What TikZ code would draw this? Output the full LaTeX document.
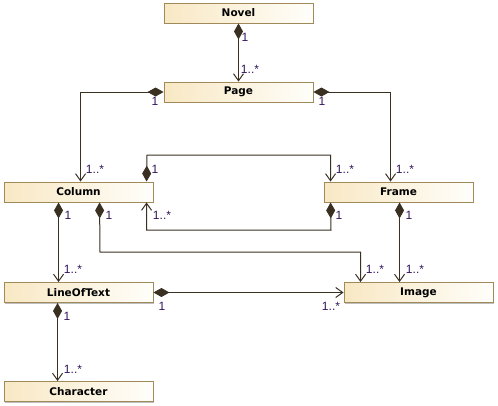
\documentclass[tikz,border=0pt]{standalone}
\usepackage{fontspec}
\newfontfamily\boxfont{DejaVu Sans}
\newfontfamily\labfont{Liberation Sans}
\usetikzlibrary{arrows.meta,shadows,calc}
\definecolor{lineC}{RGB}{58,48,34}
\definecolor{boxB}{RGB}{160,138,90}
\definecolor{boxL}{RGB}{248,232,196}
\definecolor{boxR}{RGB}{255,254,250}
\definecolor{labC}{RGB}{50,20,90}
\tikzset{
  cls/.style={draw=boxB, line width=0.9pt, left color=boxL, right color=boxR,
    minimum width=149pt, minimum height=20pt, inner sep=0pt,
    drop shadow={shadow xshift=1pt, shadow yshift=-1pt, opacity=0.25, fill=black},
    font=\boxfont\bfseries\fontsize{10.5}{12}\selectfont, text=black},
  comp/.style={draw=lineC, line width=1pt,
    {Diamond[length=16pt,width=9pt,fill=lineC]}-{Straight Barb[length=7pt,width=10pt,line width=1pt]}},
  lab/.style={font=\labfont\fontsize{12}{13}\selectfont, text=labC, inner sep=0pt}
}
\begin{document}
\begin{tikzpicture}[x=1pt,y=-1pt]
\useasboundingbox (0,0) rectangle (498,405);
% classes
\node[cls] (novel) at (238.5,13) {Novel};
\node[cls] (page) at (238.5,92) {Page};
\node[cls] (column) at (78.5,192) {Column};
\node[cls] (frame) at (398.5,192) {Frame};
\node[cls] (line) at (78.5,292.5) {LineOfText};
\node[cls] (image) at (418.5,292.5) {Image};
\node[cls] (char) at (78.5,391.5) {Character};
% bend points
\coordinate (lt) at (147,155);
\coordinate (lb) at (331,230);
\coordinate (ci) at (100,252);
% connectors
\draw[comp] (novel.south) -- (page.north);
\draw[comp] (page.west) -| ([xshift=77pt]column.north west);
\draw[comp] (page.east) -| ([xshift=67pt]frame.north west);
\draw[comp] ([xshift=143pt]column.north west) -- (lt) -| ([xshift=7pt]frame.north west);
\draw[comp] ([xshift=7pt]frame.south west) -- (lb) -| ([xshift=143pt]column.south west);
\draw[comp] ([xshift=96pt]column.south west) -- (ci) -| ([xshift=17pt]image.north west);
\draw[comp] ([xshift=76pt]frame.south west) -- ([xshift=56pt]image.north west);
\draw[comp] ([xshift=55pt]column.south west) -- ([xshift=55pt]line.north west);
\draw[comp] (line.east) -- (image.west);
\draw[comp] ([xshift=54pt]line.south west) -- ([xshift=54pt]char.north west);
% multiplicities
\node[lab] (l1) at (245,37) {1};
\node[lab] (l2) at (250,69) {1..*};
\node[lab] (l3) at (155,101) {1};
\node[lab] (l4) at (322,101) {1};
\node[lab] (l5) at (95,169) {1..*};
\node[lab] (l6) at (155,169) {1};
\node[lab] (l7) at (345,169) {1..*};
\node[lab] (l8) at (405,169) {1..*};
\node[lab] (l9) at (68,215) {1};
\node[lab] (l10) at (109,215) {1};
\node[lab] (l11) at (162,215) {1..*};
\node[lab] (l12) at (339,215) {1};
\node[lab] (l13) at (409,215) {1};
\node[lab] (l14) at (73,269) {1..*};
\node[lab] (l15) at (375,269) {1..*};
\node[lab] (l16) at (415,269) {1..*};
\node[lab] (l17) at (162,306) {1};
\node[lab] (l18) at (331,306) {1..*};
\node[lab] (l19) at (67,316) {1};
\node[lab] (l20) at (73,369) {1..*};
\end{tikzpicture}
\end{document}
